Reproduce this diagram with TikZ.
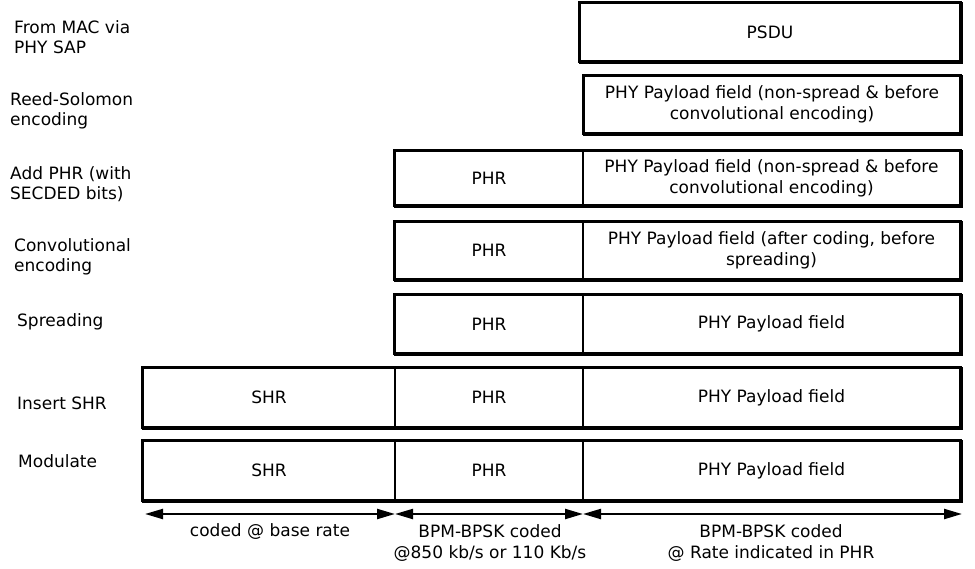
\documentclass[tikz,border=0pt]{standalone}
\usepackage{fontspec}
\setmainfont{DejaVu Sans}
\usetikzlibrary{arrows.meta}
\newcommand{\mycell}[6]{%
  \node[cell, minimum width={(#4)-(#2)}, minimum height={(#5)-(#3)}] (#1) at ({((#2)+(#4))/2},{((#3)+(#5))/2}) {#6};}
\newcommand{\myframe}[2]{%
  \draw[frame] (#1.north west) rectangle (#2.south east);
  \draw[shade] ([yshift=-1.4pt]#1.south west) -- ([xshift=1.4pt,yshift=-1.4pt]#2.south east) -- ([xshift=1.4pt]#2.north east);}
\begin{document}
\begin{tikzpicture}[x=1pt,y=-1pt,
  lbl/.style={anchor=west,align=left,font=\fontsize{17}{20.5}\selectfont,inner sep=0pt},
  cell/.style={draw,line width=1.9pt,inner sep=0pt,font=\fontsize{17}{21}\selectfont,align=center},
  frame/.style={line width=2.5pt},
  shade/.style={line width=1.5pt},
  dim/.style={line width=2.2pt,{Triangle[length=18pt,width=10pt]}-{Triangle[length=18pt,width=10pt]}},
  note/.style={font=\fontsize{17}{21}\selectfont,align=center,inner sep=0pt}]
\useasboundingbox[fill=white] (0,0) rectangle (975,569);

% left labels
\node[lbl] (l1) at (14,37) {From MAC via\\PHY SAP};
\node[lbl] (l2) at (10,111) {Reed-Solomon\\encoding};
\node[lbl] (l3) at (10,184) {Add PHR (with\\SECDED bits)};
\node[lbl] (l4) at (14,257) {Convolutional\\encoding};
\node[lbl] (l5) at (17,322) {Spreading};
\node[lbl] (l6) at (17,403) {Insert SHR};
\node[lbl] (l7) at (18,461) {Modulate};

% row 1
\mycell{psdu}{580}{3}{960}{61}{PSDU}
\myframe{psdu}{psdu}
% row 2
\mycell{rs}{584}{76}{960}{133}{PHY Payload field (non-spread \& before\\convolutional encoding)}
\myframe{rs}{rs}
% row 3
\mycell{phrA}{395}{151}{583}{205}{PHR}
\mycell{plA}{583}{151}{960}{205}{PHY Payload field (non-spread \& before\\convolutional encoding)}
\myframe{phrA}{plA}
% row 4
\mycell{phrB}{395}{222}{583}{279}{PHR}
\mycell{plB}{583}{222}{960}{279}{PHY Payload field (after coding, before\\spreading)}
\myframe{phrB}{plB}
% row 5
\mycell{phrC}{395}{295}{583}{353}{PHR}
\mycell{plC}{583}{295}{960}{353}{PHY Payload field}
\myframe{phrC}{plC}
% row 6
\mycell{shrD}{143}{368}{395}{427}{SHR}
\mycell{phrD}{395}{368}{583}{427}{PHR}
\mycell{plD}{583}{368}{960}{427}{PHY Payload field}
\myframe{shrD}{plD}
% row 7
\mycell{shrE}{143}{441}{395}{500}{SHR}
\mycell{phrE}{395}{441}{583}{500}{PHR}
\mycell{plE}{583}{441}{960}{500}{PHY Payload field}
\myframe{shrE}{plE}

% dimension arrows
\coordinate (a0) at (145,514);
\coordinate (a1) at (395,514);
\coordinate (a2) at (583,514);
\coordinate (a3) at (962,514);
\draw[dim] (a0) -- (a1);
\draw[dim] (a1) -- (a2);
\draw[dim] (a2) -- (a3);

\node[note] (n1) at (270,532) {coded @ base rate};
\node[note] (n2) at (490,543) {BPM-BPSK coded\\@850 kb/s or 110 Kb/s};
\node[note] (n3) at (771,543) {BPM-BPSK coded\\@ Rate indicated in PHR};
\end{tikzpicture}
\end{document}
